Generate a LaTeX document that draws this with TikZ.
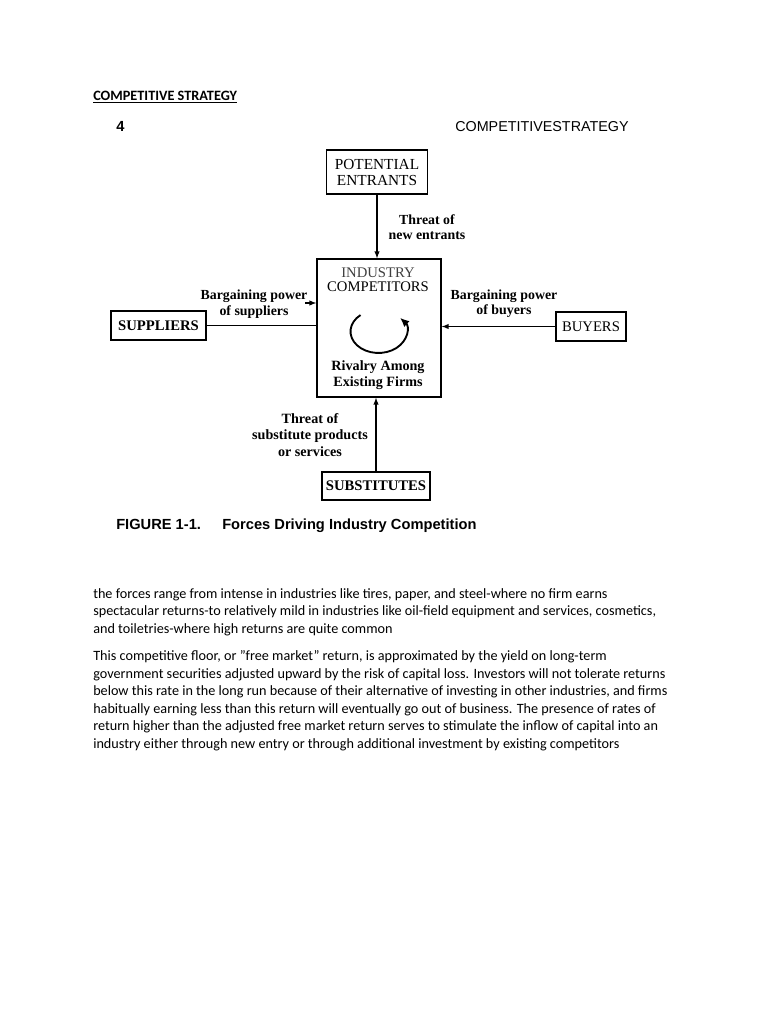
\documentclass[tikz,border=0pt]{standalone}
\usepackage{fontspec}
\setmainfont{Carlito}
\newfontfamily\seriffig{Liberation Serif}
\newfontfamily\sansfig{Liberation Sans}
\usepackage{tikz}
\usetikzlibrary{arrows.meta}

\tikzset{
  caja/.style={draw, line width=1pt, inner sep=0pt, align=center,
    font=\seriffig\fontsize{11}{12}\selectfont},
  etiqueta/.style={inner sep=0pt, align=center,
    font=\seriffig\bfseries\fontsize{10.4}{11.5}\selectfont},
  flecha/.style={line width=0.8pt, -latex},
  texto/.style={inner sep=0pt, align=left, anchor=base west,
    font=\fontsize{10.65}{13.1}\selectfont},
}

\begin{document}
\begin{tikzpicture}[x=0.75pt,y=0.75pt]

  % Fondo de la pagina
  \fill[white] (0,0) rectangle (768,-1024);
  \useasboundingbox (0,0) rectangle (768,-1024);

  % Encabezados
  \node[anchor=base west, inner sep=0pt, font=\bfseries\fontsize{10.7}{12}\selectfont] (titulo) at (93,-100) {\underline{COMPETITIVE STRATEGY}};
  \node[anchor=base west, inner sep=0pt, font=\sansfig\bfseries\fontsize{11}{12}\selectfont] (pagina) at (116,-131) {4};
  \node[anchor=base west, inner sep=0pt, font=\sansfig\fontsize{10.75}{12}\selectfont] (cabecera) at (455,-131) {COMPETITIVESTRATEGY};

  % Cajas de las cinco fuerzas
  \node[caja, font=\seriffig\fontsize{11.5}{12}\selectfont, minimum width=101*0.75pt, minimum height=44*0.75pt] (entrantes) at (377,-172) {POTENTIAL\\ENTRANTS};
  \node[caja, minimum width=124*0.75pt, minimum height=138*0.75pt] (industria) at (379,-328) {};
  \node[caja, font=\seriffig\bfseries\fontsize{11}{12}\selectfont, minimum width=95*0.75pt, minimum height=29*0.75pt] (proveedores) at (158.5,-325.5) {SUPPLIERS};
  \node[caja, minimum width=70*0.75pt, minimum height=29*0.75pt] (compradores) at (591,-326.5) {BUYERS};
  \node[caja, font=\seriffig\bfseries\fontsize{11}{12}\selectfont, minimum width=108*0.75pt, minimum height=28*0.75pt] (sustitutos) at (376,-486) {SUBSTITUTES};

  % Interior de la industria
  \node[inner sep=0pt, font=\seriffig\fontsize{11}{12}\selectfont, black!75] (ind1) at (378,-273) {INDUSTRY};
  \node[inner sep=0pt, font=\seriffig\fontsize{11}{12}\selectfont] (ind2) at (378,-287) {COMPETITORS};
  \coordinate (rueda) at (378.5,-331.5);
  \draw[line width=1.4pt, -{Latex[length=7pt,width=6pt]}] (rueda) ++(130:21pt and 16.1pt) arc[start angle=130, end angle=400, x radius=21pt, y radius=16.1pt];
  \node[etiqueta, font=\seriffig\bfseries\fontsize{10.6}{12}\selectfont] (rivalidad) at (378,-375) {Rivalry Among\\Existing Firms};

  % Flechas hacia la industria
  \draw[flecha] (entrantes.south) -- (entrantes.south |- industria.north);
  \draw[line width=0.8pt] (proveedores.east) -- (proveedores.east -| industria.west);
  \coordinate (punta) at (305,-303);
  \draw[flecha] (punta) -- (punta -| industria.west);
  \draw[flecha] (compradores.west) -- (compradores.west -| industria.east);
  \draw[flecha] (sustitutos.north) -- (sustitutos.north |- industria.south);

  % Etiquetas de las flechas
  \node[etiqueta] (amenaza) at (427,-227) {Threat of\\new entrants};
  \node[etiqueta] (poderprov) at (254,-304) {Bargaining power\\of suppliers};
  \node[etiqueta] (podercomp) at (504,-304) {Bargaining power\\of buyers};
  \node[etiqueta, font=\seriffig\bfseries\fontsize{10.6}{12.4}\selectfont] (amenazasust) at (310,-435) {Threat of\\substitute products\\or services};

  % Pie de figura
  \node[anchor=base west, inner sep=0pt, font=\sansfig\bfseries\fontsize{11}{12}\selectfont] (figura) at (116,-529) {FIGURE 1-1.};
  \node[anchor=base west, inner sep=0pt, font=\sansfig\bfseries\fontsize{11}{12}\selectfont] (fuerzas) at (222,-529) {Forces Driving Industry Competition};

  % Texto (el ancla base queda en la ultima linea)
  \node[texto] (parrafo1) at (93,-633) {the forces range from intense in industries like tires, paper, and steel-where no firm earns\\
spectacular returns-to relatively mild in industries like oil-field equipment and services, cosmetics,\\
and toiletries-where high returns are quite common};
  \node[texto] (parrafo2) at (93,-748) {This competitive floor, or \symbol{"22}free market\symbol{"22} return, is approximated by the yield on long-term\\
government securities adjusted upward by the risk of capital loss. Investors will not tolerate returns\\
below this rate in the long run because of their alternative of investing in other industries, and firms\\
habitually earning less than this return will eventually go out of business. The presence of rates of\\
return higher than the adjusted free market return serves to stimulate the inflow of capital into an\\
industry either through new entry or through additional investment by existing competitors};

\end{tikzpicture}
\end{document}
